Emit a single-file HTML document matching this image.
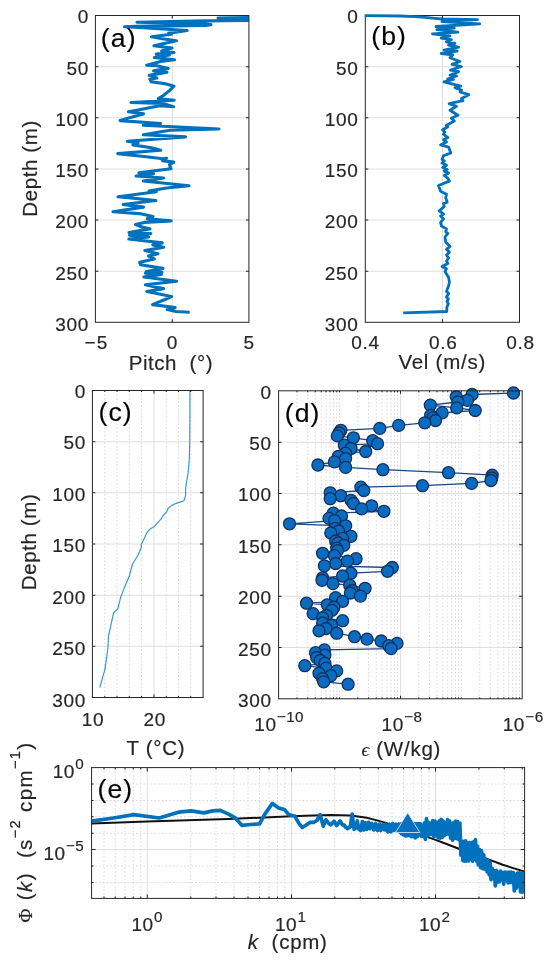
<!DOCTYPE html>
<html><head><meta charset="utf-8"><title>Figure</title>
<style>
html,body{margin:0;padding:0;background:#fff;}
svg{display:block;font-family:"Liberation Sans",sans-serif;}
text{stroke:#262626;stroke-width:0.18px;}
</style></head>
<body>
<svg width="550" height="961" viewBox="0 0 550 961">
<rect width="550" height="961" fill="#fff"/>
<line x1="95.4" y1="66.75" x2="248.9" y2="66.75" stroke="#dfdfdf" stroke-width="1"/>
<line x1="95.4" y1="117.75" x2="248.9" y2="117.75" stroke="#dfdfdf" stroke-width="1"/>
<line x1="95.4" y1="169.00" x2="248.9" y2="169.00" stroke="#dfdfdf" stroke-width="1"/>
<line x1="95.4" y1="220.00" x2="248.9" y2="220.00" stroke="#dfdfdf" stroke-width="1"/>
<line x1="95.4" y1="271.25" x2="248.9" y2="271.25" stroke="#dfdfdf" stroke-width="1"/>
<line x1="172.25" y1="15.5" x2="172.25" y2="322.3" stroke="#dfdfdf" stroke-width="1"/>
<clipPath id="ca"><rect x="95.4" y="15.5" width="153.5" height="306.8"/></clipPath>
<polyline points="256.0,17.4 218.0,18.0 256.0,20.3 205.0,20.9 136.9,22.3 205.0,24.0 211.0,24.6 205.0,25.4 135.0,26.4 124.5,26.8 135.0,27.3 187.2,30.5 168.7,33.1 171.5,34.2 151.5,36.7 162.5,38.8 176.4,40.7 154.0,45.8 172.0,48.1 161.7,51.0 174.0,52.5 156.2,54.1 169.5,55.0 154.3,57.5 174.6,59.7 160.6,61.4 146.6,65.2 156.9,65.8 168.3,68.4 153.6,70.9 167.0,72.2 149.2,75.4 156.8,77.9 149.8,79.2 151.0,81.7 164.5,83.6 174.0,86.2 173.5,86.5 169.7,90.4 163.4,95.5 158.3,98.6 174.2,100.2 130.9,102.5 163.0,103.5 173.5,106.7 159.5,105.8 138.0,110.1 128.4,111.7 143.6,113.9 138.5,115.2 120.1,120.6 160.7,123.5 143.3,125.3 219.0,129.0 170.0,130.2 143.3,134.7 185.5,136.9 127.3,141.3 138.0,143.0 133.0,144.9 151.3,147.8 160.7,150.3 117.8,153.6 144.0,156.5 163.0,158.7 166.5,158.2 162.2,160.6 173.8,162.1 169.5,164.7 171.0,168.8 138.9,172.7 153.5,173.7 136.0,176.0 163.6,178.0 143.3,181.0 189.0,185.8 166.5,188.0 149.0,191.0 156.4,191.7 118.0,196.7 120.3,196.9 155.9,200.5 123.2,204.5 143.5,207.1 113.0,211.7 139.2,213.6 153.0,216.5 147.2,218.7 171.2,220.9 144.3,222.4 135.5,224.5 141.4,226.7 150.0,228.9 129.0,232.5 150.8,233.6 129.5,235.2 148.5,237.0 128.8,239.0 162.3,242.9 152.8,245.0 163.7,247.3 144.8,250.6 157.9,253.8 148.5,256.0 154.3,258.9 139.7,262.3 140.5,264.7 163.0,268.4 146.3,271.6 162.0,272.4 145.4,273.2 161.4,274.4 143.9,277.0 176.6,281.3 145.4,284.8 156.3,287.2 163.5,288.6 146.8,291.5 171.5,296.5 164.3,299.8 152.6,304.6 175.2,307.5 167.2,309.6 176.0,311.5 189.7,312.2" fill="none" stroke="#0072bd" stroke-width="3.1" stroke-linejoin="round" clip-path="url(#ca)"/>
<rect x="95.4" y="15.5" width="153.5" height="306.8" fill="none" stroke="#262626" stroke-width="1"/>
<line x1="95.4" y1="66.75" x2="98.4" y2="66.75" stroke="#262626" stroke-width="1"/>
<line x1="248.9" y1="66.75" x2="245.9" y2="66.75" stroke="#262626" stroke-width="1"/>
<line x1="95.4" y1="117.75" x2="98.4" y2="117.75" stroke="#262626" stroke-width="1"/>
<line x1="248.9" y1="117.75" x2="245.9" y2="117.75" stroke="#262626" stroke-width="1"/>
<line x1="95.4" y1="169.00" x2="98.4" y2="169.00" stroke="#262626" stroke-width="1"/>
<line x1="248.9" y1="169.00" x2="245.9" y2="169.00" stroke="#262626" stroke-width="1"/>
<line x1="95.4" y1="220.00" x2="98.4" y2="220.00" stroke="#262626" stroke-width="1"/>
<line x1="248.9" y1="220.00" x2="245.9" y2="220.00" stroke="#262626" stroke-width="1"/>
<line x1="95.4" y1="271.25" x2="98.4" y2="271.25" stroke="#262626" stroke-width="1"/>
<line x1="248.9" y1="271.25" x2="245.9" y2="271.25" stroke="#262626" stroke-width="1"/>
<line x1="172.25" y1="322.3" x2="172.25" y2="319.3" stroke="#262626" stroke-width="1"/>
<line x1="172.25" y1="15.5" x2="172.25" y2="18.5" stroke="#262626" stroke-width="1"/>
<text x="89.1" y="22.5" font-size="19.0" letter-spacing="0.70" text-anchor="end" fill="#262626" >0</text>
<text x="89.1" y="74.9" font-size="19.0" letter-spacing="0.70" text-anchor="end" fill="#262626" >50</text>
<text x="89.1" y="126.1" font-size="19.0" letter-spacing="0.70" text-anchor="end" fill="#262626" >100</text>
<text x="89.1" y="177.2" font-size="19.0" letter-spacing="0.70" text-anchor="end" fill="#262626" >150</text>
<text x="89.1" y="228.3" font-size="19.0" letter-spacing="0.70" text-anchor="end" fill="#262626" >200</text>
<text x="89.1" y="279.5" font-size="19.0" letter-spacing="0.70" text-anchor="end" fill="#262626" >250</text>
<text x="89.1" y="330.6" font-size="19.0" letter-spacing="0.70" text-anchor="end" fill="#262626" >300</text>
<text x="108.6" y="348.9" font-size="19.0" letter-spacing="1.20" text-anchor="end" fill="#262626" >−5</text>
<text x="172.5" y="348.9" font-size="19.0" letter-spacing="0.70" text-anchor="middle" fill="#262626" >0</text>
<text x="249.2" y="348.9" font-size="19.0" letter-spacing="0.70" text-anchor="middle" fill="#262626" >5</text>
<text x="170.9" y="370.0" font-size="20.5" letter-spacing="0.55" text-anchor="middle" fill="#262626" >Pitch&#160; (°)</text>
<text transform="translate(37,168.4) rotate(-90)" letter-spacing="0.6" font-size="20.5" text-anchor="middle" fill="#262626">Depth (m)</text>
<text x="100.8" y="46.5" font-size="26.6" letter-spacing="1.10" text-anchor="start" fill="#000" >(a)</text>
<line x1="365.3" y1="66.75" x2="519.5" y2="66.75" stroke="#dfdfdf" stroke-width="1"/>
<line x1="365.3" y1="117.75" x2="519.5" y2="117.75" stroke="#dfdfdf" stroke-width="1"/>
<line x1="365.3" y1="169.00" x2="519.5" y2="169.00" stroke="#dfdfdf" stroke-width="1"/>
<line x1="365.3" y1="220.00" x2="519.5" y2="220.00" stroke="#dfdfdf" stroke-width="1"/>
<line x1="365.3" y1="271.25" x2="519.5" y2="271.25" stroke="#dfdfdf" stroke-width="1"/>
<line x1="442.50" y1="15.5" x2="442.50" y2="322.3" stroke="#dfdfdf" stroke-width="1"/>
<clipPath id="cb"><rect x="364.8" y="14.0" width="155.2" height="308.8"/></clipPath>
<rect x="365.3" y="15.5" width="154.2" height="306.8" fill="none" stroke="#262626" stroke-width="1"/>
<polyline points="362.0,15.6 366.0,15.6 400.0,16.0 415.0,16.6 425.0,17.4 435.0,18.4 442.6,19.0 477.5,19.6 441.9,21.5 479.7,23.9 436.0,26.5 454.3,28.0 436.8,29.7 457.9,32.1 432.5,33.8 450.0,36.0 441.2,38.2 451.4,39.6 446.3,41.8 455.0,43.3 448.5,45.2 458.6,47.2 444.0,50.1 457.2,51.0 441.2,53.5 452.8,54.9 450.0,57.8 460.0,61.5 452.0,64.4 461.5,66.5 450.6,70.2 458.6,71.6 450.0,75.3 456.5,76.0 447.7,79.0 453.5,79.4 444.0,81.8 460.8,86.2 455.0,87.6 461.5,90.1 460.0,92.0 468.8,94.7 461.5,98.5 463.0,100.7 449.2,103.6 456.5,106.3 450.0,110.2 458.0,115.3 451.4,118.2 454.3,121.1 446.3,125.5 447.7,127.0 442.6,129.8 444.8,132.0 443.4,134.2 447.9,137.6 443.5,139.8 446.5,142.0 440.6,144.9 448.6,147.1 450.8,152.9 443.5,155.8 442.1,159.5 444.3,161.0 442.0,163.0 446.5,165.3 442.8,167.5 447.2,169.6 444.3,171.1 448.6,173.0 444.3,175.5 448.0,178.4 449.4,181.1 438.5,185.5 440.6,191.3 446.5,194.2 445.7,197.8 447.2,202.2 443.5,203.6 444.3,206.5 439.2,210.9 443.5,214.1 440.6,216.0 443.5,218.9 440.6,222.4 441.4,226.0 446.5,228.9 445.7,231.8 447.9,233.3 445.0,237.0 445.7,242.0 450.0,246.4 446.5,249.3 449.4,252.2 446.5,255.1 448.6,258.0 446.5,261.0 447.9,263.5 442.1,266.5 446.5,268.7 445.0,271.6 448.6,277.5 449.4,281.8 448.6,286.0 446.5,291.3 448.6,293.5 446.5,297.0 448.3,299.0 447.0,301.5 448.3,303.8 446.8,307.5 446.8,311.5 403.2,312.8" fill="none" stroke="#0072bd" stroke-width="2.8" stroke-linejoin="round" clip-path="url(#cb)"/>
<line x1="365.3" y1="66.75" x2="368.3" y2="66.75" stroke="#262626" stroke-width="1"/>
<line x1="519.5" y1="66.75" x2="516.5" y2="66.75" stroke="#262626" stroke-width="1"/>
<line x1="365.3" y1="117.75" x2="368.3" y2="117.75" stroke="#262626" stroke-width="1"/>
<line x1="519.5" y1="117.75" x2="516.5" y2="117.75" stroke="#262626" stroke-width="1"/>
<line x1="365.3" y1="169.00" x2="368.3" y2="169.00" stroke="#262626" stroke-width="1"/>
<line x1="519.5" y1="169.00" x2="516.5" y2="169.00" stroke="#262626" stroke-width="1"/>
<line x1="365.3" y1="220.00" x2="368.3" y2="220.00" stroke="#262626" stroke-width="1"/>
<line x1="519.5" y1="220.00" x2="516.5" y2="220.00" stroke="#262626" stroke-width="1"/>
<line x1="365.3" y1="271.25" x2="368.3" y2="271.25" stroke="#262626" stroke-width="1"/>
<line x1="519.5" y1="271.25" x2="516.5" y2="271.25" stroke="#262626" stroke-width="1"/>
<line x1="442.50" y1="322.3" x2="442.50" y2="319.3" stroke="#262626" stroke-width="1"/>
<line x1="442.50" y1="15.5" x2="442.50" y2="18.5" stroke="#262626" stroke-width="1"/>
<text x="358.6" y="22.5" font-size="19.0" letter-spacing="0.70" text-anchor="end" fill="#262626" >0</text>
<text x="358.6" y="74.9" font-size="19.0" letter-spacing="0.70" text-anchor="end" fill="#262626" >50</text>
<text x="358.6" y="126.1" font-size="19.0" letter-spacing="0.70" text-anchor="end" fill="#262626" >100</text>
<text x="358.6" y="177.2" font-size="19.0" letter-spacing="0.70" text-anchor="end" fill="#262626" >150</text>
<text x="358.6" y="228.3" font-size="19.0" letter-spacing="0.70" text-anchor="end" fill="#262626" >200</text>
<text x="358.6" y="279.5" font-size="19.0" letter-spacing="0.70" text-anchor="end" fill="#262626" >250</text>
<text x="358.6" y="330.6" font-size="19.0" letter-spacing="0.70" text-anchor="end" fill="#262626" >300</text>
<text x="365.6" y="348.9" font-size="19.0" letter-spacing="0.70" text-anchor="middle" fill="#262626" >0.4</text>
<text x="443.2" y="348.9" font-size="19.0" letter-spacing="0.70" text-anchor="middle" fill="#262626" >0.6</text>
<text x="520.6" y="348.9" font-size="19.0" letter-spacing="0.70" text-anchor="middle" fill="#262626" >0.8</text>
<text x="442.2" y="369.0" font-size="20.5" letter-spacing="0.75" text-anchor="middle" fill="#262626" >Vel (m/s)</text>
<text x="371.2" y="45.3" font-size="26.6" letter-spacing="1.10" text-anchor="start" fill="#000" >(b)</text>
<line x1="92.4" y1="441.75" x2="203.1" y2="441.75" stroke="#dfdfdf" stroke-width="1"/>
<line x1="92.4" y1="492.75" x2="203.1" y2="492.75" stroke="#dfdfdf" stroke-width="1"/>
<line x1="92.4" y1="544.00" x2="203.1" y2="544.00" stroke="#dfdfdf" stroke-width="1"/>
<line x1="92.4" y1="595.25" x2="203.1" y2="595.25" stroke="#dfdfdf" stroke-width="1"/>
<line x1="92.4" y1="646.25" x2="203.1" y2="646.25" stroke="#dfdfdf" stroke-width="1"/>
<line x1="154.00" y1="390.5" x2="154.00" y2="697.5" stroke="#dfdfdf" stroke-width="1"/>
<line x1="104.75" y1="390.5" x2="104.75" y2="697.5" stroke="#d8d8d8" stroke-width="1" stroke-dasharray="1.6 2.1"/>
<line x1="117.00" y1="390.5" x2="117.00" y2="697.5" stroke="#d8d8d8" stroke-width="1" stroke-dasharray="1.6 2.1"/>
<line x1="129.25" y1="390.5" x2="129.25" y2="697.5" stroke="#d8d8d8" stroke-width="1" stroke-dasharray="1.6 2.1"/>
<line x1="141.50" y1="390.5" x2="141.50" y2="697.5" stroke="#d8d8d8" stroke-width="1" stroke-dasharray="1.6 2.1"/>
<line x1="166.25" y1="390.5" x2="166.25" y2="697.5" stroke="#d8d8d8" stroke-width="1" stroke-dasharray="1.6 2.1"/>
<line x1="178.50" y1="390.5" x2="178.50" y2="697.5" stroke="#d8d8d8" stroke-width="1" stroke-dasharray="1.6 2.1"/>
<line x1="190.75" y1="390.5" x2="190.75" y2="697.5" stroke="#d8d8d8" stroke-width="1" stroke-dasharray="1.6 2.1"/>
<polyline points="189.9,390.5 189.9,417.7 189.7,441.7 189.3,459.2 188.2,472.3 186.7,481.0 185.6,488.6 185.6,495.2 184.3,500.2 181.6,501.7 176.2,503.3 171.8,505.4 168.1,508.3 166.8,511.6 163.1,515.5 160.9,519.2 157.6,522.9 154.4,526.4 150.0,529.0 147.2,532.3 145.6,535.6 143.5,539.9 141.3,544.3 141.3,547.6 138.0,555.3 132.5,564.0 129.3,576.0 123.8,589.1 120.5,597.8 117.9,608.7 113.6,612.7 110.7,626.2 108.5,636.0 107.9,648.0 106.4,658.9 104.8,669.8 102.0,679.6 99.8,687.7" fill="none" stroke="#3a97d6" stroke-width="1.2" stroke-linejoin="round" />
<rect x="92.4" y="390.5" width="110.69999999999999" height="307.0" fill="none" stroke="#262626" stroke-width="1"/>
<line x1="92.4" y1="441.75" x2="95.4" y2="441.75" stroke="#262626" stroke-width="1"/>
<line x1="203.1" y1="441.75" x2="200.1" y2="441.75" stroke="#262626" stroke-width="1"/>
<line x1="92.4" y1="492.75" x2="95.4" y2="492.75" stroke="#262626" stroke-width="1"/>
<line x1="203.1" y1="492.75" x2="200.1" y2="492.75" stroke="#262626" stroke-width="1"/>
<line x1="92.4" y1="544.00" x2="95.4" y2="544.00" stroke="#262626" stroke-width="1"/>
<line x1="203.1" y1="544.00" x2="200.1" y2="544.00" stroke="#262626" stroke-width="1"/>
<line x1="92.4" y1="595.25" x2="95.4" y2="595.25" stroke="#262626" stroke-width="1"/>
<line x1="203.1" y1="595.25" x2="200.1" y2="595.25" stroke="#262626" stroke-width="1"/>
<line x1="92.4" y1="646.25" x2="95.4" y2="646.25" stroke="#262626" stroke-width="1"/>
<line x1="203.1" y1="646.25" x2="200.1" y2="646.25" stroke="#262626" stroke-width="1"/>
<line x1="154.00" y1="697.5" x2="154.00" y2="694.5" stroke="#262626" stroke-width="1"/>
<line x1="154.00" y1="390.5" x2="154.00" y2="393.5" stroke="#262626" stroke-width="1"/>
<line x1="104.75" y1="697.5" x2="104.75" y2="696.0" stroke="#262626" stroke-width="1"/>
<line x1="104.75" y1="390.5" x2="104.75" y2="392.0" stroke="#262626" stroke-width="1"/>
<line x1="117.00" y1="697.5" x2="117.00" y2="696.0" stroke="#262626" stroke-width="1"/>
<line x1="117.00" y1="390.5" x2="117.00" y2="392.0" stroke="#262626" stroke-width="1"/>
<line x1="129.25" y1="697.5" x2="129.25" y2="696.0" stroke="#262626" stroke-width="1"/>
<line x1="129.25" y1="390.5" x2="129.25" y2="392.0" stroke="#262626" stroke-width="1"/>
<line x1="141.50" y1="697.5" x2="141.50" y2="696.0" stroke="#262626" stroke-width="1"/>
<line x1="141.50" y1="390.5" x2="141.50" y2="392.0" stroke="#262626" stroke-width="1"/>
<line x1="166.25" y1="697.5" x2="166.25" y2="696.0" stroke="#262626" stroke-width="1"/>
<line x1="166.25" y1="390.5" x2="166.25" y2="392.0" stroke="#262626" stroke-width="1"/>
<line x1="178.50" y1="697.5" x2="178.50" y2="696.0" stroke="#262626" stroke-width="1"/>
<line x1="178.50" y1="390.5" x2="178.50" y2="392.0" stroke="#262626" stroke-width="1"/>
<line x1="190.75" y1="697.5" x2="190.75" y2="696.0" stroke="#262626" stroke-width="1"/>
<line x1="190.75" y1="390.5" x2="190.75" y2="392.0" stroke="#262626" stroke-width="1"/>
<text x="86.1" y="397.9" font-size="19.0" letter-spacing="0.70" text-anchor="end" fill="#262626" >0</text>
<text x="86.1" y="449.4" font-size="19.0" letter-spacing="0.70" text-anchor="end" fill="#262626" >50</text>
<text x="86.1" y="500.9" font-size="19.0" letter-spacing="0.70" text-anchor="end" fill="#262626" >100</text>
<text x="86.1" y="552.4" font-size="19.0" letter-spacing="0.70" text-anchor="end" fill="#262626" >150</text>
<text x="86.1" y="603.9" font-size="19.0" letter-spacing="0.70" text-anchor="end" fill="#262626" >200</text>
<text x="86.1" y="655.4" font-size="19.0" letter-spacing="0.70" text-anchor="end" fill="#262626" >250</text>
<text x="86.1" y="706.9" font-size="19.0" letter-spacing="0.70" text-anchor="end" fill="#262626" >300</text>
<text x="93.0" y="725.6" font-size="19.0" letter-spacing="0.70" text-anchor="middle" fill="#262626" >10</text>
<text x="154.8" y="725.6" font-size="19.0" letter-spacing="0.70" text-anchor="middle" fill="#262626" >20</text>
<text x="155.9" y="754.5" font-size="20.5" letter-spacing="0.75" text-anchor="middle" fill="#262626" >T (°C)</text>
<text transform="translate(35.5,541.9) rotate(-90)" letter-spacing="0.6" font-size="20.5" text-anchor="middle" fill="#262626">Depth (m)</text>
<text x="98.5" y="420.7" font-size="26.6" letter-spacing="1.10" text-anchor="start" fill="#000" >(c)</text>
<line x1="278.6" y1="442.25" x2="522.2" y2="442.25" stroke="#dfdfdf" stroke-width="1"/>
<line x1="278.6" y1="493.50" x2="522.2" y2="493.50" stroke="#dfdfdf" stroke-width="1"/>
<line x1="278.6" y1="544.75" x2="522.2" y2="544.75" stroke="#dfdfdf" stroke-width="1"/>
<line x1="278.6" y1="596.25" x2="522.2" y2="596.25" stroke="#dfdfdf" stroke-width="1"/>
<line x1="278.6" y1="647.50" x2="522.2" y2="647.50" stroke="#dfdfdf" stroke-width="1"/>
<line x1="400.50" y1="390.8" x2="400.50" y2="698.8" stroke="#dfdfdf" stroke-width="1"/>
<line x1="297.00" y1="390.8" x2="297.00" y2="698.8" stroke="#d8d8d8" stroke-width="1" stroke-dasharray="1.6 2.1"/>
<line x1="307.75" y1="390.8" x2="307.75" y2="698.8" stroke="#d8d8d8" stroke-width="1" stroke-dasharray="1.6 2.1"/>
<line x1="315.25" y1="390.8" x2="315.25" y2="698.8" stroke="#d8d8d8" stroke-width="1" stroke-dasharray="1.6 2.1"/>
<line x1="321.25" y1="390.8" x2="321.25" y2="698.8" stroke="#d8d8d8" stroke-width="1" stroke-dasharray="1.6 2.1"/>
<line x1="326.00" y1="390.8" x2="326.00" y2="698.8" stroke="#d8d8d8" stroke-width="1" stroke-dasharray="1.6 2.1"/>
<line x1="330.00" y1="390.8" x2="330.00" y2="698.8" stroke="#d8d8d8" stroke-width="1" stroke-dasharray="1.6 2.1"/>
<line x1="333.50" y1="390.8" x2="333.50" y2="698.8" stroke="#d8d8d8" stroke-width="1" stroke-dasharray="1.6 2.1"/>
<line x1="336.75" y1="390.8" x2="336.75" y2="698.8" stroke="#d8d8d8" stroke-width="1" stroke-dasharray="1.6 2.1"/>
<line x1="357.75" y1="390.8" x2="357.75" y2="698.8" stroke="#d8d8d8" stroke-width="1" stroke-dasharray="1.6 2.1"/>
<line x1="368.50" y1="390.8" x2="368.50" y2="698.8" stroke="#d8d8d8" stroke-width="1" stroke-dasharray="1.6 2.1"/>
<line x1="376.25" y1="390.8" x2="376.25" y2="698.8" stroke="#d8d8d8" stroke-width="1" stroke-dasharray="1.6 2.1"/>
<line x1="382.00" y1="390.8" x2="382.00" y2="698.8" stroke="#d8d8d8" stroke-width="1" stroke-dasharray="1.6 2.1"/>
<line x1="387.00" y1="390.8" x2="387.00" y2="698.8" stroke="#d8d8d8" stroke-width="1" stroke-dasharray="1.6 2.1"/>
<line x1="391.00" y1="390.8" x2="391.00" y2="698.8" stroke="#d8d8d8" stroke-width="1" stroke-dasharray="1.6 2.1"/>
<line x1="394.50" y1="390.8" x2="394.50" y2="698.8" stroke="#d8d8d8" stroke-width="1" stroke-dasharray="1.6 2.1"/>
<line x1="397.50" y1="390.8" x2="397.50" y2="698.8" stroke="#d8d8d8" stroke-width="1" stroke-dasharray="1.6 2.1"/>
<line x1="418.75" y1="390.8" x2="418.75" y2="698.8" stroke="#d8d8d8" stroke-width="1" stroke-dasharray="1.6 2.1"/>
<line x1="429.50" y1="390.8" x2="429.50" y2="698.8" stroke="#d8d8d8" stroke-width="1" stroke-dasharray="1.6 2.1"/>
<line x1="437.00" y1="390.8" x2="437.00" y2="698.8" stroke="#d8d8d8" stroke-width="1" stroke-dasharray="1.6 2.1"/>
<line x1="443.00" y1="390.8" x2="443.00" y2="698.8" stroke="#d8d8d8" stroke-width="1" stroke-dasharray="1.6 2.1"/>
<line x1="447.75" y1="390.8" x2="447.75" y2="698.8" stroke="#d8d8d8" stroke-width="1" stroke-dasharray="1.6 2.1"/>
<line x1="451.75" y1="390.8" x2="451.75" y2="698.8" stroke="#d8d8d8" stroke-width="1" stroke-dasharray="1.6 2.1"/>
<line x1="455.50" y1="390.8" x2="455.50" y2="698.8" stroke="#d8d8d8" stroke-width="1" stroke-dasharray="1.6 2.1"/>
<line x1="458.50" y1="390.8" x2="458.50" y2="698.8" stroke="#d8d8d8" stroke-width="1" stroke-dasharray="1.6 2.1"/>
<line x1="479.75" y1="390.8" x2="479.75" y2="698.8" stroke="#d8d8d8" stroke-width="1" stroke-dasharray="1.6 2.1"/>
<line x1="490.25" y1="390.8" x2="490.25" y2="698.8" stroke="#d8d8d8" stroke-width="1" stroke-dasharray="1.6 2.1"/>
<line x1="498.00" y1="390.8" x2="498.00" y2="698.8" stroke="#d8d8d8" stroke-width="1" stroke-dasharray="1.6 2.1"/>
<line x1="503.75" y1="390.8" x2="503.75" y2="698.8" stroke="#d8d8d8" stroke-width="1" stroke-dasharray="1.6 2.1"/>
<line x1="508.75" y1="390.8" x2="508.75" y2="698.8" stroke="#d8d8d8" stroke-width="1" stroke-dasharray="1.6 2.1"/>
<line x1="512.75" y1="390.8" x2="512.75" y2="698.8" stroke="#d8d8d8" stroke-width="1" stroke-dasharray="1.6 2.1"/>
<line x1="516.25" y1="390.8" x2="516.25" y2="698.8" stroke="#d8d8d8" stroke-width="1" stroke-dasharray="1.6 2.1"/>
<line x1="519.50" y1="390.8" x2="519.50" y2="698.8" stroke="#d8d8d8" stroke-width="1" stroke-dasharray="1.6 2.1"/>
<line x1="339.50" y1="390.8" x2="339.50" y2="698.8" stroke="#d8d8d8" stroke-width="1" stroke-dasharray="1.6 2.1"/>
<line x1="461.25" y1="390.8" x2="461.25" y2="698.8" stroke="#d8d8d8" stroke-width="1" stroke-dasharray="1.6 2.1"/>
<polyline points="513.5,393.0 472.1,394.5 456.3,396.8 467.4,400.4 457.9,402.0 430.3,405.1 456.7,407.9 475.2,410.5 442.1,412.9 430.7,415.3 433.0,417.8 435.5,420.5 424.8,422.8 398.7,425.4 379.8,428.4 340.8,430.3 339.0,433.0 337.3,435.9 353.4,437.8 372.7,440.7 377.5,443.7 344.4,445.2 351.0,448.5 365.7,451.5 345.6,453.2 338.5,456.3 345.6,458.6 334.4,461.9 317.9,465.0 345.6,467.4 382.9,469.7 448.5,472.7 492.2,475.1 491.7,478.0 491.0,480.5 471.6,483.4 422.5,485.7 360.9,487.2 363.8,490.5 330.2,492.8 340.8,495.7 330.2,498.7 351.0,500.3 353.4,503.5 371.6,505.8 361.6,508.9 383.9,511.3 333.3,513.2 341.5,516.0 329.0,518.4 334.6,520.6 289.5,523.8 345.7,525.8 335.0,528.4 338.6,531.0 330.8,533.0 350.9,536.3 342.6,538.4 335.6,541.0 338.0,543.0 343.8,545.3 336.7,548.1 337.5,550.6 322.6,553.3 334.4,555.7 356.1,558.7 347.4,561.1 335.6,563.5 324.4,565.8 392.3,567.5 387.6,571.3 350.9,573.2 342.6,576.0 322.6,577.8 322.0,580.3 333.0,583.6 349.7,585.2 365.1,588.3 352.0,590.5 350.4,593.0 360.4,596.1 335.6,597.7 342.6,601.3 306.5,603.2 327.3,604.8 333.9,607.2 332.0,610.3 313.1,613.6 326.5,615.5 322.6,617.8 342.6,620.7 322.6,623.0 331.5,625.4 326.1,628.5 319.0,630.8 336.7,633.2 354.5,636.7 367.0,639.1 381.2,641.0 397.0,643.4 388.7,645.7 391.1,648.6 324.4,649.9 315.5,652.7 324.9,655.1 316.6,657.5 320.2,660.5 324.9,663.4 304.8,665.7 326.1,668.1 336.7,670.9 319.0,673.3 330.8,675.7 322.6,678.7 323.7,681.8 348.1,684.2" fill="none" stroke="#1d4585" stroke-width="1.3" stroke-linejoin="round" />
<circle cx="513.5" cy="393.0" r="6.0" fill="#0a6cc0" stroke="#13315f" stroke-width="1.3"/>
<circle cx="472.1" cy="394.5" r="6.0" fill="#0a6cc0" stroke="#13315f" stroke-width="1.3"/>
<circle cx="456.3" cy="396.8" r="6.0" fill="#0a6cc0" stroke="#13315f" stroke-width="1.3"/>
<circle cx="467.4" cy="400.4" r="6.0" fill="#0a6cc0" stroke="#13315f" stroke-width="1.3"/>
<circle cx="457.9" cy="402.0" r="6.0" fill="#0a6cc0" stroke="#13315f" stroke-width="1.3"/>
<circle cx="430.3" cy="405.1" r="6.0" fill="#0a6cc0" stroke="#13315f" stroke-width="1.3"/>
<circle cx="456.7" cy="407.9" r="6.0" fill="#0a6cc0" stroke="#13315f" stroke-width="1.3"/>
<circle cx="475.2" cy="410.5" r="6.0" fill="#0a6cc0" stroke="#13315f" stroke-width="1.3"/>
<circle cx="442.1" cy="412.9" r="6.0" fill="#0a6cc0" stroke="#13315f" stroke-width="1.3"/>
<circle cx="430.7" cy="415.3" r="6.0" fill="#0a6cc0" stroke="#13315f" stroke-width="1.3"/>
<circle cx="433.0" cy="417.8" r="6.0" fill="#0a6cc0" stroke="#13315f" stroke-width="1.3"/>
<circle cx="435.5" cy="420.5" r="6.0" fill="#0a6cc0" stroke="#13315f" stroke-width="1.3"/>
<circle cx="424.8" cy="422.8" r="6.0" fill="#0a6cc0" stroke="#13315f" stroke-width="1.3"/>
<circle cx="398.7" cy="425.4" r="6.0" fill="#0a6cc0" stroke="#13315f" stroke-width="1.3"/>
<circle cx="379.8" cy="428.4" r="6.0" fill="#0a6cc0" stroke="#13315f" stroke-width="1.3"/>
<circle cx="340.8" cy="430.3" r="6.0" fill="#0a6cc0" stroke="#13315f" stroke-width="1.3"/>
<circle cx="339.0" cy="433.0" r="6.0" fill="#0a6cc0" stroke="#13315f" stroke-width="1.3"/>
<circle cx="337.3" cy="435.9" r="6.0" fill="#0a6cc0" stroke="#13315f" stroke-width="1.3"/>
<circle cx="353.4" cy="437.8" r="6.0" fill="#0a6cc0" stroke="#13315f" stroke-width="1.3"/>
<circle cx="372.7" cy="440.7" r="6.0" fill="#0a6cc0" stroke="#13315f" stroke-width="1.3"/>
<circle cx="377.5" cy="443.7" r="6.0" fill="#0a6cc0" stroke="#13315f" stroke-width="1.3"/>
<circle cx="344.4" cy="445.2" r="6.0" fill="#0a6cc0" stroke="#13315f" stroke-width="1.3"/>
<circle cx="351.0" cy="448.5" r="6.0" fill="#0a6cc0" stroke="#13315f" stroke-width="1.3"/>
<circle cx="365.7" cy="451.5" r="6.0" fill="#0a6cc0" stroke="#13315f" stroke-width="1.3"/>
<circle cx="345.6" cy="453.2" r="6.0" fill="#0a6cc0" stroke="#13315f" stroke-width="1.3"/>
<circle cx="338.5" cy="456.3" r="6.0" fill="#0a6cc0" stroke="#13315f" stroke-width="1.3"/>
<circle cx="345.6" cy="458.6" r="6.0" fill="#0a6cc0" stroke="#13315f" stroke-width="1.3"/>
<circle cx="334.4" cy="461.9" r="6.0" fill="#0a6cc0" stroke="#13315f" stroke-width="1.3"/>
<circle cx="317.9" cy="465.0" r="6.0" fill="#0a6cc0" stroke="#13315f" stroke-width="1.3"/>
<circle cx="345.6" cy="467.4" r="6.0" fill="#0a6cc0" stroke="#13315f" stroke-width="1.3"/>
<circle cx="382.9" cy="469.7" r="6.0" fill="#0a6cc0" stroke="#13315f" stroke-width="1.3"/>
<circle cx="448.5" cy="472.7" r="6.0" fill="#0a6cc0" stroke="#13315f" stroke-width="1.3"/>
<circle cx="492.2" cy="475.1" r="6.0" fill="#0a6cc0" stroke="#13315f" stroke-width="1.3"/>
<circle cx="491.7" cy="478.0" r="6.0" fill="#0a6cc0" stroke="#13315f" stroke-width="1.3"/>
<circle cx="491.0" cy="480.5" r="6.0" fill="#0a6cc0" stroke="#13315f" stroke-width="1.3"/>
<circle cx="471.6" cy="483.4" r="6.0" fill="#0a6cc0" stroke="#13315f" stroke-width="1.3"/>
<circle cx="422.5" cy="485.7" r="6.0" fill="#0a6cc0" stroke="#13315f" stroke-width="1.3"/>
<circle cx="360.9" cy="487.2" r="6.0" fill="#0a6cc0" stroke="#13315f" stroke-width="1.3"/>
<circle cx="363.8" cy="490.5" r="6.0" fill="#0a6cc0" stroke="#13315f" stroke-width="1.3"/>
<circle cx="330.2" cy="492.8" r="6.0" fill="#0a6cc0" stroke="#13315f" stroke-width="1.3"/>
<circle cx="340.8" cy="495.7" r="6.0" fill="#0a6cc0" stroke="#13315f" stroke-width="1.3"/>
<circle cx="330.2" cy="498.7" r="6.0" fill="#0a6cc0" stroke="#13315f" stroke-width="1.3"/>
<circle cx="351.0" cy="500.3" r="6.0" fill="#0a6cc0" stroke="#13315f" stroke-width="1.3"/>
<circle cx="353.4" cy="503.5" r="6.0" fill="#0a6cc0" stroke="#13315f" stroke-width="1.3"/>
<circle cx="371.6" cy="505.8" r="6.0" fill="#0a6cc0" stroke="#13315f" stroke-width="1.3"/>
<circle cx="361.6" cy="508.9" r="6.0" fill="#0a6cc0" stroke="#13315f" stroke-width="1.3"/>
<circle cx="383.9" cy="511.3" r="6.0" fill="#0a6cc0" stroke="#13315f" stroke-width="1.3"/>
<circle cx="333.3" cy="513.2" r="6.0" fill="#0a6cc0" stroke="#13315f" stroke-width="1.3"/>
<circle cx="341.5" cy="516.0" r="6.0" fill="#0a6cc0" stroke="#13315f" stroke-width="1.3"/>
<circle cx="329.0" cy="518.4" r="6.0" fill="#0a6cc0" stroke="#13315f" stroke-width="1.3"/>
<circle cx="334.6" cy="520.6" r="6.0" fill="#0a6cc0" stroke="#13315f" stroke-width="1.3"/>
<circle cx="289.5" cy="523.8" r="6.0" fill="#0a6cc0" stroke="#13315f" stroke-width="1.3"/>
<circle cx="345.7" cy="525.8" r="6.0" fill="#0a6cc0" stroke="#13315f" stroke-width="1.3"/>
<circle cx="335.0" cy="528.4" r="6.0" fill="#0a6cc0" stroke="#13315f" stroke-width="1.3"/>
<circle cx="338.6" cy="531.0" r="6.0" fill="#0a6cc0" stroke="#13315f" stroke-width="1.3"/>
<circle cx="330.8" cy="533.0" r="6.0" fill="#0a6cc0" stroke="#13315f" stroke-width="1.3"/>
<circle cx="350.9" cy="536.3" r="6.0" fill="#0a6cc0" stroke="#13315f" stroke-width="1.3"/>
<circle cx="342.6" cy="538.4" r="6.0" fill="#0a6cc0" stroke="#13315f" stroke-width="1.3"/>
<circle cx="335.6" cy="541.0" r="6.0" fill="#0a6cc0" stroke="#13315f" stroke-width="1.3"/>
<circle cx="338.0" cy="543.0" r="6.0" fill="#0a6cc0" stroke="#13315f" stroke-width="1.3"/>
<circle cx="343.8" cy="545.3" r="6.0" fill="#0a6cc0" stroke="#13315f" stroke-width="1.3"/>
<circle cx="336.7" cy="548.1" r="6.0" fill="#0a6cc0" stroke="#13315f" stroke-width="1.3"/>
<circle cx="337.5" cy="550.6" r="6.0" fill="#0a6cc0" stroke="#13315f" stroke-width="1.3"/>
<circle cx="322.6" cy="553.3" r="6.0" fill="#0a6cc0" stroke="#13315f" stroke-width="1.3"/>
<circle cx="334.4" cy="555.7" r="6.0" fill="#0a6cc0" stroke="#13315f" stroke-width="1.3"/>
<circle cx="356.1" cy="558.7" r="6.0" fill="#0a6cc0" stroke="#13315f" stroke-width="1.3"/>
<circle cx="347.4" cy="561.1" r="6.0" fill="#0a6cc0" stroke="#13315f" stroke-width="1.3"/>
<circle cx="335.6" cy="563.5" r="6.0" fill="#0a6cc0" stroke="#13315f" stroke-width="1.3"/>
<circle cx="324.4" cy="565.8" r="6.0" fill="#0a6cc0" stroke="#13315f" stroke-width="1.3"/>
<circle cx="392.3" cy="567.5" r="6.0" fill="#0a6cc0" stroke="#13315f" stroke-width="1.3"/>
<circle cx="387.6" cy="571.3" r="6.0" fill="#0a6cc0" stroke="#13315f" stroke-width="1.3"/>
<circle cx="350.9" cy="573.2" r="6.0" fill="#0a6cc0" stroke="#13315f" stroke-width="1.3"/>
<circle cx="342.6" cy="576.0" r="6.0" fill="#0a6cc0" stroke="#13315f" stroke-width="1.3"/>
<circle cx="322.6" cy="577.8" r="6.0" fill="#0a6cc0" stroke="#13315f" stroke-width="1.3"/>
<circle cx="322.0" cy="580.3" r="6.0" fill="#0a6cc0" stroke="#13315f" stroke-width="1.3"/>
<circle cx="333.0" cy="583.6" r="6.0" fill="#0a6cc0" stroke="#13315f" stroke-width="1.3"/>
<circle cx="349.7" cy="585.2" r="6.0" fill="#0a6cc0" stroke="#13315f" stroke-width="1.3"/>
<circle cx="365.1" cy="588.3" r="6.0" fill="#0a6cc0" stroke="#13315f" stroke-width="1.3"/>
<circle cx="352.0" cy="590.5" r="6.0" fill="#0a6cc0" stroke="#13315f" stroke-width="1.3"/>
<circle cx="350.4" cy="593.0" r="6.0" fill="#0a6cc0" stroke="#13315f" stroke-width="1.3"/>
<circle cx="360.4" cy="596.1" r="6.0" fill="#0a6cc0" stroke="#13315f" stroke-width="1.3"/>
<circle cx="335.6" cy="597.7" r="6.0" fill="#0a6cc0" stroke="#13315f" stroke-width="1.3"/>
<circle cx="342.6" cy="601.3" r="6.0" fill="#0a6cc0" stroke="#13315f" stroke-width="1.3"/>
<circle cx="306.5" cy="603.2" r="6.0" fill="#0a6cc0" stroke="#13315f" stroke-width="1.3"/>
<circle cx="327.3" cy="604.8" r="6.0" fill="#0a6cc0" stroke="#13315f" stroke-width="1.3"/>
<circle cx="333.9" cy="607.2" r="6.0" fill="#0a6cc0" stroke="#13315f" stroke-width="1.3"/>
<circle cx="332.0" cy="610.3" r="6.0" fill="#0a6cc0" stroke="#13315f" stroke-width="1.3"/>
<circle cx="313.1" cy="613.6" r="6.0" fill="#0a6cc0" stroke="#13315f" stroke-width="1.3"/>
<circle cx="326.5" cy="615.5" r="6.0" fill="#0a6cc0" stroke="#13315f" stroke-width="1.3"/>
<circle cx="322.6" cy="617.8" r="6.0" fill="#0a6cc0" stroke="#13315f" stroke-width="1.3"/>
<circle cx="342.6" cy="620.7" r="6.0" fill="#0a6cc0" stroke="#13315f" stroke-width="1.3"/>
<circle cx="322.6" cy="623.0" r="6.0" fill="#0a6cc0" stroke="#13315f" stroke-width="1.3"/>
<circle cx="331.5" cy="625.4" r="6.0" fill="#0a6cc0" stroke="#13315f" stroke-width="1.3"/>
<circle cx="326.1" cy="628.5" r="6.0" fill="#0a6cc0" stroke="#13315f" stroke-width="1.3"/>
<circle cx="319.0" cy="630.8" r="6.0" fill="#0a6cc0" stroke="#13315f" stroke-width="1.3"/>
<circle cx="336.7" cy="633.2" r="6.0" fill="#0a6cc0" stroke="#13315f" stroke-width="1.3"/>
<circle cx="354.5" cy="636.7" r="6.0" fill="#0a6cc0" stroke="#13315f" stroke-width="1.3"/>
<circle cx="367.0" cy="639.1" r="6.0" fill="#0a6cc0" stroke="#13315f" stroke-width="1.3"/>
<circle cx="381.2" cy="641.0" r="6.0" fill="#0a6cc0" stroke="#13315f" stroke-width="1.3"/>
<circle cx="397.0" cy="643.4" r="6.0" fill="#0a6cc0" stroke="#13315f" stroke-width="1.3"/>
<circle cx="388.7" cy="645.7" r="6.0" fill="#0a6cc0" stroke="#13315f" stroke-width="1.3"/>
<circle cx="391.1" cy="648.6" r="6.0" fill="#0a6cc0" stroke="#13315f" stroke-width="1.3"/>
<circle cx="324.4" cy="649.9" r="6.0" fill="#0a6cc0" stroke="#13315f" stroke-width="1.3"/>
<circle cx="315.5" cy="652.7" r="6.0" fill="#0a6cc0" stroke="#13315f" stroke-width="1.3"/>
<circle cx="324.9" cy="655.1" r="6.0" fill="#0a6cc0" stroke="#13315f" stroke-width="1.3"/>
<circle cx="316.6" cy="657.5" r="6.0" fill="#0a6cc0" stroke="#13315f" stroke-width="1.3"/>
<circle cx="320.2" cy="660.5" r="6.0" fill="#0a6cc0" stroke="#13315f" stroke-width="1.3"/>
<circle cx="324.9" cy="663.4" r="6.0" fill="#0a6cc0" stroke="#13315f" stroke-width="1.3"/>
<circle cx="304.8" cy="665.7" r="6.0" fill="#0a6cc0" stroke="#13315f" stroke-width="1.3"/>
<circle cx="326.1" cy="668.1" r="6.0" fill="#0a6cc0" stroke="#13315f" stroke-width="1.3"/>
<circle cx="336.7" cy="670.9" r="6.0" fill="#0a6cc0" stroke="#13315f" stroke-width="1.3"/>
<circle cx="319.0" cy="673.3" r="6.0" fill="#0a6cc0" stroke="#13315f" stroke-width="1.3"/>
<circle cx="330.8" cy="675.7" r="6.0" fill="#0a6cc0" stroke="#13315f" stroke-width="1.3"/>
<circle cx="322.6" cy="678.7" r="6.0" fill="#0a6cc0" stroke="#13315f" stroke-width="1.3"/>
<circle cx="323.7" cy="681.8" r="6.0" fill="#0a6cc0" stroke="#13315f" stroke-width="1.3"/>
<circle cx="348.1" cy="684.2" r="6.0" fill="#0a6cc0" stroke="#13315f" stroke-width="1.3"/>
<rect x="278.6" y="390.8" width="243.60000000000002" height="307.99999999999994" fill="none" stroke="#262626" stroke-width="1"/>
<line x1="278.6" y1="442.25" x2="281.6" y2="442.25" stroke="#262626" stroke-width="1"/>
<line x1="522.2" y1="442.25" x2="519.2" y2="442.25" stroke="#262626" stroke-width="1"/>
<line x1="278.6" y1="493.50" x2="281.6" y2="493.50" stroke="#262626" stroke-width="1"/>
<line x1="522.2" y1="493.50" x2="519.2" y2="493.50" stroke="#262626" stroke-width="1"/>
<line x1="278.6" y1="544.75" x2="281.6" y2="544.75" stroke="#262626" stroke-width="1"/>
<line x1="522.2" y1="544.75" x2="519.2" y2="544.75" stroke="#262626" stroke-width="1"/>
<line x1="278.6" y1="596.25" x2="281.6" y2="596.25" stroke="#262626" stroke-width="1"/>
<line x1="522.2" y1="596.25" x2="519.2" y2="596.25" stroke="#262626" stroke-width="1"/>
<line x1="278.6" y1="647.50" x2="281.6" y2="647.50" stroke="#262626" stroke-width="1"/>
<line x1="522.2" y1="647.50" x2="519.2" y2="647.50" stroke="#262626" stroke-width="1"/>
<line x1="400.50" y1="698.8" x2="400.50" y2="695.8" stroke="#262626" stroke-width="1"/>
<line x1="400.50" y1="390.8" x2="400.50" y2="393.8" stroke="#262626" stroke-width="1"/>
<line x1="297.00" y1="698.8" x2="297.00" y2="697.3" stroke="#262626" stroke-width="1"/>
<line x1="297.00" y1="390.8" x2="297.00" y2="392.3" stroke="#262626" stroke-width="1"/>
<line x1="307.75" y1="698.8" x2="307.75" y2="697.3" stroke="#262626" stroke-width="1"/>
<line x1="307.75" y1="390.8" x2="307.75" y2="392.3" stroke="#262626" stroke-width="1"/>
<line x1="315.25" y1="698.8" x2="315.25" y2="697.3" stroke="#262626" stroke-width="1"/>
<line x1="315.25" y1="390.8" x2="315.25" y2="392.3" stroke="#262626" stroke-width="1"/>
<line x1="321.25" y1="698.8" x2="321.25" y2="697.3" stroke="#262626" stroke-width="1"/>
<line x1="321.25" y1="390.8" x2="321.25" y2="392.3" stroke="#262626" stroke-width="1"/>
<line x1="326.00" y1="698.8" x2="326.00" y2="697.3" stroke="#262626" stroke-width="1"/>
<line x1="326.00" y1="390.8" x2="326.00" y2="392.3" stroke="#262626" stroke-width="1"/>
<line x1="330.00" y1="698.8" x2="330.00" y2="697.3" stroke="#262626" stroke-width="1"/>
<line x1="330.00" y1="390.8" x2="330.00" y2="392.3" stroke="#262626" stroke-width="1"/>
<line x1="333.50" y1="698.8" x2="333.50" y2="697.3" stroke="#262626" stroke-width="1"/>
<line x1="333.50" y1="390.8" x2="333.50" y2="392.3" stroke="#262626" stroke-width="1"/>
<line x1="336.75" y1="698.8" x2="336.75" y2="697.3" stroke="#262626" stroke-width="1"/>
<line x1="336.75" y1="390.8" x2="336.75" y2="392.3" stroke="#262626" stroke-width="1"/>
<line x1="357.75" y1="698.8" x2="357.75" y2="697.3" stroke="#262626" stroke-width="1"/>
<line x1="357.75" y1="390.8" x2="357.75" y2="392.3" stroke="#262626" stroke-width="1"/>
<line x1="368.50" y1="698.8" x2="368.50" y2="697.3" stroke="#262626" stroke-width="1"/>
<line x1="368.50" y1="390.8" x2="368.50" y2="392.3" stroke="#262626" stroke-width="1"/>
<line x1="376.25" y1="698.8" x2="376.25" y2="697.3" stroke="#262626" stroke-width="1"/>
<line x1="376.25" y1="390.8" x2="376.25" y2="392.3" stroke="#262626" stroke-width="1"/>
<line x1="382.00" y1="698.8" x2="382.00" y2="697.3" stroke="#262626" stroke-width="1"/>
<line x1="382.00" y1="390.8" x2="382.00" y2="392.3" stroke="#262626" stroke-width="1"/>
<line x1="387.00" y1="698.8" x2="387.00" y2="697.3" stroke="#262626" stroke-width="1"/>
<line x1="387.00" y1="390.8" x2="387.00" y2="392.3" stroke="#262626" stroke-width="1"/>
<line x1="391.00" y1="698.8" x2="391.00" y2="697.3" stroke="#262626" stroke-width="1"/>
<line x1="391.00" y1="390.8" x2="391.00" y2="392.3" stroke="#262626" stroke-width="1"/>
<line x1="394.50" y1="698.8" x2="394.50" y2="697.3" stroke="#262626" stroke-width="1"/>
<line x1="394.50" y1="390.8" x2="394.50" y2="392.3" stroke="#262626" stroke-width="1"/>
<line x1="397.50" y1="698.8" x2="397.50" y2="697.3" stroke="#262626" stroke-width="1"/>
<line x1="397.50" y1="390.8" x2="397.50" y2="392.3" stroke="#262626" stroke-width="1"/>
<line x1="418.75" y1="698.8" x2="418.75" y2="697.3" stroke="#262626" stroke-width="1"/>
<line x1="418.75" y1="390.8" x2="418.75" y2="392.3" stroke="#262626" stroke-width="1"/>
<line x1="429.50" y1="698.8" x2="429.50" y2="697.3" stroke="#262626" stroke-width="1"/>
<line x1="429.50" y1="390.8" x2="429.50" y2="392.3" stroke="#262626" stroke-width="1"/>
<line x1="437.00" y1="698.8" x2="437.00" y2="697.3" stroke="#262626" stroke-width="1"/>
<line x1="437.00" y1="390.8" x2="437.00" y2="392.3" stroke="#262626" stroke-width="1"/>
<line x1="443.00" y1="698.8" x2="443.00" y2="697.3" stroke="#262626" stroke-width="1"/>
<line x1="443.00" y1="390.8" x2="443.00" y2="392.3" stroke="#262626" stroke-width="1"/>
<line x1="447.75" y1="698.8" x2="447.75" y2="697.3" stroke="#262626" stroke-width="1"/>
<line x1="447.75" y1="390.8" x2="447.75" y2="392.3" stroke="#262626" stroke-width="1"/>
<line x1="451.75" y1="698.8" x2="451.75" y2="697.3" stroke="#262626" stroke-width="1"/>
<line x1="451.75" y1="390.8" x2="451.75" y2="392.3" stroke="#262626" stroke-width="1"/>
<line x1="455.50" y1="698.8" x2="455.50" y2="697.3" stroke="#262626" stroke-width="1"/>
<line x1="455.50" y1="390.8" x2="455.50" y2="392.3" stroke="#262626" stroke-width="1"/>
<line x1="458.50" y1="698.8" x2="458.50" y2="697.3" stroke="#262626" stroke-width="1"/>
<line x1="458.50" y1="390.8" x2="458.50" y2="392.3" stroke="#262626" stroke-width="1"/>
<line x1="479.75" y1="698.8" x2="479.75" y2="697.3" stroke="#262626" stroke-width="1"/>
<line x1="479.75" y1="390.8" x2="479.75" y2="392.3" stroke="#262626" stroke-width="1"/>
<line x1="490.25" y1="698.8" x2="490.25" y2="697.3" stroke="#262626" stroke-width="1"/>
<line x1="490.25" y1="390.8" x2="490.25" y2="392.3" stroke="#262626" stroke-width="1"/>
<line x1="498.00" y1="698.8" x2="498.00" y2="697.3" stroke="#262626" stroke-width="1"/>
<line x1="498.00" y1="390.8" x2="498.00" y2="392.3" stroke="#262626" stroke-width="1"/>
<line x1="503.75" y1="698.8" x2="503.75" y2="697.3" stroke="#262626" stroke-width="1"/>
<line x1="503.75" y1="390.8" x2="503.75" y2="392.3" stroke="#262626" stroke-width="1"/>
<line x1="508.75" y1="698.8" x2="508.75" y2="697.3" stroke="#262626" stroke-width="1"/>
<line x1="508.75" y1="390.8" x2="508.75" y2="392.3" stroke="#262626" stroke-width="1"/>
<line x1="512.75" y1="698.8" x2="512.75" y2="697.3" stroke="#262626" stroke-width="1"/>
<line x1="512.75" y1="390.8" x2="512.75" y2="392.3" stroke="#262626" stroke-width="1"/>
<line x1="516.25" y1="698.8" x2="516.25" y2="697.3" stroke="#262626" stroke-width="1"/>
<line x1="516.25" y1="390.8" x2="516.25" y2="392.3" stroke="#262626" stroke-width="1"/>
<line x1="519.50" y1="698.8" x2="519.50" y2="697.3" stroke="#262626" stroke-width="1"/>
<line x1="519.50" y1="390.8" x2="519.50" y2="392.3" stroke="#262626" stroke-width="1"/>
<line x1="339.50" y1="698.8" x2="339.50" y2="697.3" stroke="#262626" stroke-width="1"/>
<line x1="339.50" y1="390.8" x2="339.50" y2="392.3" stroke="#262626" stroke-width="1"/>
<line x1="461.25" y1="698.8" x2="461.25" y2="697.3" stroke="#262626" stroke-width="1"/>
<line x1="461.25" y1="390.8" x2="461.25" y2="392.3" stroke="#262626" stroke-width="1"/>
<text x="271.9" y="398.5" font-size="19.0" letter-spacing="0.70" text-anchor="end" fill="#262626" >0</text>
<text x="271.9" y="450.0" font-size="19.0" letter-spacing="0.70" text-anchor="end" fill="#262626" >50</text>
<text x="271.9" y="501.4" font-size="19.0" letter-spacing="0.70" text-anchor="end" fill="#262626" >100</text>
<text x="271.9" y="552.9" font-size="19.0" letter-spacing="0.70" text-anchor="end" fill="#262626" >150</text>
<text x="271.9" y="604.4" font-size="19.0" letter-spacing="0.70" text-anchor="end" fill="#262626" >200</text>
<text x="271.9" y="655.8" font-size="19.0" letter-spacing="0.70" text-anchor="end" fill="#262626" >250</text>
<text x="271.9" y="707.3" font-size="19.0" letter-spacing="0.70" text-anchor="end" fill="#262626" >300</text>
<text x="279.2" y="731.2" font-size="19.0" letter-spacing="0.45" text-anchor="middle" fill="#262626">10<tspan dy="-9" dx="0.5" font-size="15.2">−10</tspan></text>
<text x="402.0" y="731.2" font-size="19.0" letter-spacing="0.45" text-anchor="middle" fill="#262626">10<tspan dy="-9" dx="0.5" font-size="15.2">−8</tspan></text>
<text x="523.2" y="731.2" font-size="19.0" letter-spacing="0.45" text-anchor="middle" fill="#262626">10<tspan dy="-9" dx="0.5" font-size="15.2">−6</tspan></text>
<text x="401.3" y="755.5" letter-spacing="0.75" font-size="20.5" text-anchor="middle" fill="#262626"><tspan font-family="'Liberation Serif',serif" font-style="italic" font-size="19">ϵ</tspan> (W/kg)</text>
<text x="284.7" y="421.6" font-size="26.6" letter-spacing="1.10" text-anchor="start" fill="#000" >(d)</text>
<line x1="91.6" y1="849.50" x2="524.6" y2="849.50" stroke="#dfdfdf" stroke-width="1"/>
<line x1="91.6" y1="784.00" x2="524.6" y2="784.00" stroke="#d8d8d8" stroke-width="1" stroke-dasharray="1.6 2.1"/>
<line x1="91.6" y1="800.50" x2="524.6" y2="800.50" stroke="#d8d8d8" stroke-width="1" stroke-dasharray="1.6 2.1"/>
<line x1="91.6" y1="816.75" x2="524.6" y2="816.75" stroke="#d8d8d8" stroke-width="1" stroke-dasharray="1.6 2.1"/>
<line x1="91.6" y1="833.25" x2="524.6" y2="833.25" stroke="#d8d8d8" stroke-width="1" stroke-dasharray="1.6 2.1"/>
<line x1="91.6" y1="866.00" x2="524.6" y2="866.00" stroke="#d8d8d8" stroke-width="1" stroke-dasharray="1.6 2.1"/>
<line x1="91.6" y1="882.50" x2="524.6" y2="882.50" stroke="#d8d8d8" stroke-width="1" stroke-dasharray="1.6 2.1"/>
<line x1="147.25" y1="767.6" x2="147.25" y2="898.4" stroke="#dfdfdf" stroke-width="1"/>
<line x1="291.50" y1="767.6" x2="291.50" y2="898.4" stroke="#dfdfdf" stroke-width="1"/>
<line x1="435.50" y1="767.6" x2="435.50" y2="898.4" stroke="#dfdfdf" stroke-width="1"/>
<line x1="104.00" y1="767.6" x2="104.00" y2="898.4" stroke="#d8d8d8" stroke-width="1" stroke-dasharray="1.6 2.1"/>
<line x1="115.25" y1="767.6" x2="115.25" y2="898.4" stroke="#d8d8d8" stroke-width="1" stroke-dasharray="1.6 2.1"/>
<line x1="125.00" y1="767.6" x2="125.00" y2="898.4" stroke="#d8d8d8" stroke-width="1" stroke-dasharray="1.6 2.1"/>
<line x1="133.25" y1="767.6" x2="133.25" y2="898.4" stroke="#d8d8d8" stroke-width="1" stroke-dasharray="1.6 2.1"/>
<line x1="140.75" y1="767.6" x2="140.75" y2="898.4" stroke="#d8d8d8" stroke-width="1" stroke-dasharray="1.6 2.1"/>
<line x1="190.75" y1="767.6" x2="190.75" y2="898.4" stroke="#d8d8d8" stroke-width="1" stroke-dasharray="1.6 2.1"/>
<line x1="216.00" y1="767.6" x2="216.00" y2="898.4" stroke="#d8d8d8" stroke-width="1" stroke-dasharray="1.6 2.1"/>
<line x1="234.00" y1="767.6" x2="234.00" y2="898.4" stroke="#d8d8d8" stroke-width="1" stroke-dasharray="1.6 2.1"/>
<line x1="248.00" y1="767.6" x2="248.00" y2="898.4" stroke="#d8d8d8" stroke-width="1" stroke-dasharray="1.6 2.1"/>
<line x1="259.50" y1="767.6" x2="259.50" y2="898.4" stroke="#d8d8d8" stroke-width="1" stroke-dasharray="1.6 2.1"/>
<line x1="269.00" y1="767.6" x2="269.00" y2="898.4" stroke="#d8d8d8" stroke-width="1" stroke-dasharray="1.6 2.1"/>
<line x1="277.50" y1="767.6" x2="277.50" y2="898.4" stroke="#d8d8d8" stroke-width="1" stroke-dasharray="1.6 2.1"/>
<line x1="284.75" y1="767.6" x2="284.75" y2="898.4" stroke="#d8d8d8" stroke-width="1" stroke-dasharray="1.6 2.1"/>
<line x1="334.75" y1="767.6" x2="334.75" y2="898.4" stroke="#d8d8d8" stroke-width="1" stroke-dasharray="1.6 2.1"/>
<line x1="360.25" y1="767.6" x2="360.25" y2="898.4" stroke="#d8d8d8" stroke-width="1" stroke-dasharray="1.6 2.1"/>
<line x1="378.25" y1="767.6" x2="378.25" y2="898.4" stroke="#d8d8d8" stroke-width="1" stroke-dasharray="1.6 2.1"/>
<line x1="392.00" y1="767.6" x2="392.00" y2="898.4" stroke="#d8d8d8" stroke-width="1" stroke-dasharray="1.6 2.1"/>
<line x1="403.50" y1="767.6" x2="403.50" y2="898.4" stroke="#d8d8d8" stroke-width="1" stroke-dasharray="1.6 2.1"/>
<line x1="413.25" y1="767.6" x2="413.25" y2="898.4" stroke="#d8d8d8" stroke-width="1" stroke-dasharray="1.6 2.1"/>
<line x1="421.50" y1="767.6" x2="421.50" y2="898.4" stroke="#d8d8d8" stroke-width="1" stroke-dasharray="1.6 2.1"/>
<line x1="429.00" y1="767.6" x2="429.00" y2="898.4" stroke="#d8d8d8" stroke-width="1" stroke-dasharray="1.6 2.1"/>
<line x1="479.00" y1="767.6" x2="479.00" y2="898.4" stroke="#d8d8d8" stroke-width="1" stroke-dasharray="1.6 2.1"/>
<line x1="504.25" y1="767.6" x2="504.25" y2="898.4" stroke="#d8d8d8" stroke-width="1" stroke-dasharray="1.6 2.1"/>
<line x1="522.25" y1="767.6" x2="522.25" y2="898.4" stroke="#d8d8d8" stroke-width="1" stroke-dasharray="1.6 2.1"/>
<clipPath id="ce"><rect x="91.6" y="767.6" width="433.0" height="130.79999999999995"/></clipPath>
<polyline points="89.0,823.8 91.6,823.6 147.0,821.5 228.0,819.0 286.0,816.6 305.5,815.7 331.0,815.1 350.0,815.5 358.0,816.4 366.8,817.8 377.0,820.4 386.0,822.9 396.2,826.6 410.0,831.2 421.6,834.9 435.5,839.9 442.0,842.2 460.2,849.3 486.4,858.6 502.7,864.8 524.6,871.6 527.0,872.4" fill="none" stroke="#111" stroke-width="2.0" stroke-linejoin="round" clip-path="url(#ce)"/>
<polyline points="89.0,821.5 91.6,821.1 113.5,818.0 133.8,814.7 159.3,818.0 178.4,812.2 191.1,810.9 203.8,812.9 212.7,810.9 220.3,810.4 229.1,814.4 235.5,818.2 241.8,825.3 250.7,824.5 259.6,823.8 264.7,814.4 272.4,803.4 278.7,808.0 284.5,809.6 288.9,814.7 294.6,816.0 299.1,823.6 302.3,827.5 305.5,825.5 309.9,822.4 313.7,822.4 316.9,820.5 320.1,814.7 323.3,826.2 325.8,819.8 329.0,823.6 330.9,824.9 334.1,821.1 336.6,825.5 340.1,821.0 342.4,824.9 343.9,824.8 345.8,827.4 347.7,828.6 350.3,826.7 352.2,814.0 354.1,829.3 355.8,827.4 357.3,821.0 358.5,828.6 360.5,830.5 362.4,821.6 363.6,829.9 365.5,822.9 366.8,829.3 368.7,822.3 370.0,828.6 371.9,823.5 373.8,829.9 375.7,823.5 377.6,830.5 379.5,824.2 380.8,830.5 382.7,824.8 384.6,829.9 385.9,824.2 387.8,831.8 389.7,824.2 391.0,831.8 392.9,823.5 394.2,830.5 396.1,824.2 397.4,830.5 398.6,824.1 399.5,831.9 400.4,824.2 401.4,833.7 402.4,823.4 403.4,834.9 404.3,823.7 405.4,835.9 406.3,823.9 407.5,835.6 408.5,824.5 409.4,835.4 410.3,823.0 411.2,836.7 412.3,823.0 413.4,836.5 414.4,823.5 415.3,837.8 416.2,823.8 417.2,836.6 418.2,823.6 419.2,835.0 420.3,823.6 421.3,836.1 422.5,825.8 423.4,836.6 424.3,823.2 425.4,839.3 426.5,818.6 427.6,835.9 428.6,822.7 429.6,834.7 430.6,823.4 431.6,834.2 432.8,820.5 433.9,836.5 435.0,821.2 436.2,835.9 437.1,823.2 438.2,837.8 439.2,820.8 440.1,838.1 441.2,819.4 442.2,837.5 443.3,821.2 444.3,835.6 445.5,822.9 446.7,834.2 447.6,819.7 448.8,834.2 449.7,821.1 450.6,838.1 451.7,824.2 452.6,840.2 453.6,822.7 454.6,838.3 455.7,821.0 456.8,838.7 457.7,821.6 458.8,839.6 459.9,823.2 460.9,855.1 462.0,841.1 462.9,860.6 463.8,841.6 464.6,861.2 465.5,840.8 466.5,861.2 467.7,842.6 468.6,860.8 469.5,842.7 470.4,859.5 471.6,842.7 472.7,861.1 473.5,841.9 474.5,859.1 475.4,839.7 476.6,861.2 477.5,846.2 478.3,865.0 479.5,849.7 480.6,867.7 481.6,850.8 482.7,868.7 483.8,854.9 484.8,869.1 486.0,859.3 487.1,871.8 488.2,860.6 489.2,874.9 490.1,862.3 491.0,879.7 492.1,868.3 493.1,878.2 494.3,870.9 495.3,886.0 496.2,870.4 497.2,882.5 498.3,872.3 499.4,881.7 500.5,871.1 501.6,879.7 502.7,872.5 503.7,884.1 504.8,872.0 506.0,879.7 506.9,872.3 508.1,882.8 509.0,872.0 509.9,882.5 511.1,872.1 512.2,882.6 513.3,872.7 514.3,891.0 515.2,874.4 516.3,888.1 517.4,873.2 518.6,885.8 519.5,872.9 520.5,892.0 521.5,873.0 522.5,892.2 523.7,873.3 524.6,885.0" fill="none" stroke="#0072bd" stroke-width="3.7" stroke-linejoin="round" clip-path="url(#ce)"/>
<polygon points="395.6,832.5 419.8,832.5 407.7,812.7" fill="#0b6fc0" stroke="#cfe0f0" stroke-width="0.9"/>
<rect x="91.6" y="767.6" width="433.0" height="130.79999999999995" fill="none" stroke="#262626" stroke-width="1"/>
<line x1="147.25" y1="898.4" x2="147.25" y2="894.4" stroke="#262626" stroke-width="1"/>
<line x1="147.25" y1="767.6" x2="147.25" y2="771.6" stroke="#262626" stroke-width="1"/>
<line x1="291.50" y1="898.4" x2="291.50" y2="894.4" stroke="#262626" stroke-width="1"/>
<line x1="291.50" y1="767.6" x2="291.50" y2="771.6" stroke="#262626" stroke-width="1"/>
<line x1="435.50" y1="898.4" x2="435.50" y2="894.4" stroke="#262626" stroke-width="1"/>
<line x1="435.50" y1="767.6" x2="435.50" y2="771.6" stroke="#262626" stroke-width="1"/>
<line x1="104.00" y1="898.4" x2="104.00" y2="896.4" stroke="#262626" stroke-width="1"/>
<line x1="104.00" y1="767.6" x2="104.00" y2="769.6" stroke="#262626" stroke-width="1"/>
<line x1="115.25" y1="898.4" x2="115.25" y2="896.4" stroke="#262626" stroke-width="1"/>
<line x1="115.25" y1="767.6" x2="115.25" y2="769.6" stroke="#262626" stroke-width="1"/>
<line x1="125.00" y1="898.4" x2="125.00" y2="896.4" stroke="#262626" stroke-width="1"/>
<line x1="125.00" y1="767.6" x2="125.00" y2="769.6" stroke="#262626" stroke-width="1"/>
<line x1="133.25" y1="898.4" x2="133.25" y2="896.4" stroke="#262626" stroke-width="1"/>
<line x1="133.25" y1="767.6" x2="133.25" y2="769.6" stroke="#262626" stroke-width="1"/>
<line x1="140.75" y1="898.4" x2="140.75" y2="896.4" stroke="#262626" stroke-width="1"/>
<line x1="140.75" y1="767.6" x2="140.75" y2="769.6" stroke="#262626" stroke-width="1"/>
<line x1="190.75" y1="898.4" x2="190.75" y2="896.4" stroke="#262626" stroke-width="1"/>
<line x1="190.75" y1="767.6" x2="190.75" y2="769.6" stroke="#262626" stroke-width="1"/>
<line x1="216.00" y1="898.4" x2="216.00" y2="896.4" stroke="#262626" stroke-width="1"/>
<line x1="216.00" y1="767.6" x2="216.00" y2="769.6" stroke="#262626" stroke-width="1"/>
<line x1="234.00" y1="898.4" x2="234.00" y2="896.4" stroke="#262626" stroke-width="1"/>
<line x1="234.00" y1="767.6" x2="234.00" y2="769.6" stroke="#262626" stroke-width="1"/>
<line x1="248.00" y1="898.4" x2="248.00" y2="896.4" stroke="#262626" stroke-width="1"/>
<line x1="248.00" y1="767.6" x2="248.00" y2="769.6" stroke="#262626" stroke-width="1"/>
<line x1="259.50" y1="898.4" x2="259.50" y2="896.4" stroke="#262626" stroke-width="1"/>
<line x1="259.50" y1="767.6" x2="259.50" y2="769.6" stroke="#262626" stroke-width="1"/>
<line x1="269.00" y1="898.4" x2="269.00" y2="896.4" stroke="#262626" stroke-width="1"/>
<line x1="269.00" y1="767.6" x2="269.00" y2="769.6" stroke="#262626" stroke-width="1"/>
<line x1="277.50" y1="898.4" x2="277.50" y2="896.4" stroke="#262626" stroke-width="1"/>
<line x1="277.50" y1="767.6" x2="277.50" y2="769.6" stroke="#262626" stroke-width="1"/>
<line x1="284.75" y1="898.4" x2="284.75" y2="896.4" stroke="#262626" stroke-width="1"/>
<line x1="284.75" y1="767.6" x2="284.75" y2="769.6" stroke="#262626" stroke-width="1"/>
<line x1="334.75" y1="898.4" x2="334.75" y2="896.4" stroke="#262626" stroke-width="1"/>
<line x1="334.75" y1="767.6" x2="334.75" y2="769.6" stroke="#262626" stroke-width="1"/>
<line x1="360.25" y1="898.4" x2="360.25" y2="896.4" stroke="#262626" stroke-width="1"/>
<line x1="360.25" y1="767.6" x2="360.25" y2="769.6" stroke="#262626" stroke-width="1"/>
<line x1="378.25" y1="898.4" x2="378.25" y2="896.4" stroke="#262626" stroke-width="1"/>
<line x1="378.25" y1="767.6" x2="378.25" y2="769.6" stroke="#262626" stroke-width="1"/>
<line x1="392.00" y1="898.4" x2="392.00" y2="896.4" stroke="#262626" stroke-width="1"/>
<line x1="392.00" y1="767.6" x2="392.00" y2="769.6" stroke="#262626" stroke-width="1"/>
<line x1="403.50" y1="898.4" x2="403.50" y2="896.4" stroke="#262626" stroke-width="1"/>
<line x1="403.50" y1="767.6" x2="403.50" y2="769.6" stroke="#262626" stroke-width="1"/>
<line x1="413.25" y1="898.4" x2="413.25" y2="896.4" stroke="#262626" stroke-width="1"/>
<line x1="413.25" y1="767.6" x2="413.25" y2="769.6" stroke="#262626" stroke-width="1"/>
<line x1="421.50" y1="898.4" x2="421.50" y2="896.4" stroke="#262626" stroke-width="1"/>
<line x1="421.50" y1="767.6" x2="421.50" y2="769.6" stroke="#262626" stroke-width="1"/>
<line x1="429.00" y1="898.4" x2="429.00" y2="896.4" stroke="#262626" stroke-width="1"/>
<line x1="429.00" y1="767.6" x2="429.00" y2="769.6" stroke="#262626" stroke-width="1"/>
<line x1="479.00" y1="898.4" x2="479.00" y2="896.4" stroke="#262626" stroke-width="1"/>
<line x1="479.00" y1="767.6" x2="479.00" y2="769.6" stroke="#262626" stroke-width="1"/>
<line x1="504.25" y1="898.4" x2="504.25" y2="896.4" stroke="#262626" stroke-width="1"/>
<line x1="504.25" y1="767.6" x2="504.25" y2="769.6" stroke="#262626" stroke-width="1"/>
<line x1="522.25" y1="898.4" x2="522.25" y2="896.4" stroke="#262626" stroke-width="1"/>
<line x1="522.25" y1="767.6" x2="522.25" y2="769.6" stroke="#262626" stroke-width="1"/>
<line x1="91.6" y1="849.50" x2="95.6" y2="849.50" stroke="#262626" stroke-width="1"/>
<line x1="524.6" y1="849.50" x2="520.6" y2="849.50" stroke="#262626" stroke-width="1"/>
<line x1="91.6" y1="784.00" x2="93.6" y2="784.00" stroke="#262626" stroke-width="1"/>
<line x1="524.6" y1="784.00" x2="522.6" y2="784.00" stroke="#262626" stroke-width="1"/>
<line x1="91.6" y1="800.50" x2="93.6" y2="800.50" stroke="#262626" stroke-width="1"/>
<line x1="524.6" y1="800.50" x2="522.6" y2="800.50" stroke="#262626" stroke-width="1"/>
<line x1="91.6" y1="816.75" x2="93.6" y2="816.75" stroke="#262626" stroke-width="1"/>
<line x1="524.6" y1="816.75" x2="522.6" y2="816.75" stroke="#262626" stroke-width="1"/>
<line x1="91.6" y1="833.25" x2="93.6" y2="833.25" stroke="#262626" stroke-width="1"/>
<line x1="524.6" y1="833.25" x2="522.6" y2="833.25" stroke="#262626" stroke-width="1"/>
<line x1="91.6" y1="866.00" x2="93.6" y2="866.00" stroke="#262626" stroke-width="1"/>
<line x1="524.6" y1="866.00" x2="522.6" y2="866.00" stroke="#262626" stroke-width="1"/>
<line x1="91.6" y1="882.50" x2="93.6" y2="882.50" stroke="#262626" stroke-width="1"/>
<line x1="524.6" y1="882.50" x2="522.6" y2="882.50" stroke="#262626" stroke-width="1"/>
<text x="84.2" y="778.3" font-size="19.0" letter-spacing="0.45" text-anchor="end" fill="#262626">10<tspan dy="-9" dx="0.5" font-size="15.2">0</tspan></text>
<text x="84.2" y="859.6" font-size="19.0" letter-spacing="0.45" text-anchor="end" fill="#262626">10<tspan dy="-9" dx="0.5" font-size="15.2">−5</tspan></text>
<text x="147.2" y="931.0" font-size="19.0" letter-spacing="0.45" text-anchor="middle" fill="#262626">10<tspan dy="-9" dx="0.5" font-size="15.2">0</tspan></text>
<text x="290.7" y="931.0" font-size="19.0" letter-spacing="0.45" text-anchor="middle" fill="#262626">10<tspan dy="-9" dx="0.5" font-size="15.2">1</tspan></text>
<text x="434.7" y="931.0" font-size="19.0" letter-spacing="0.45" text-anchor="middle" fill="#262626">10<tspan dy="-9" dx="0.5" font-size="15.2">2</tspan></text>
<text x="287.7" y="949.4" letter-spacing="0.75" font-size="20.5" text-anchor="middle" fill="#262626"><tspan font-style="italic">k</tspan>&#160; (cpm)</text>
<text transform="translate(32,832) rotate(-90)" letter-spacing="1.35" font-size="20.5" text-anchor="middle" fill="#262626"><tspan font-family="'Liberation Serif',serif" font-size="19">Φ</tspan> (<tspan font-style="italic">k</tspan>)&#160; (s<tspan dy="-12" font-size="14.6">−2</tspan><tspan dy="12"> cpm</tspan><tspan dy="-12" font-size="14.6">−1</tspan><tspan dy="12">)</tspan></text>
<text x="97.5" y="798.4" font-size="26.6" letter-spacing="1.10" text-anchor="start" fill="#000" >(e)</text>
</svg>
</body></html>
